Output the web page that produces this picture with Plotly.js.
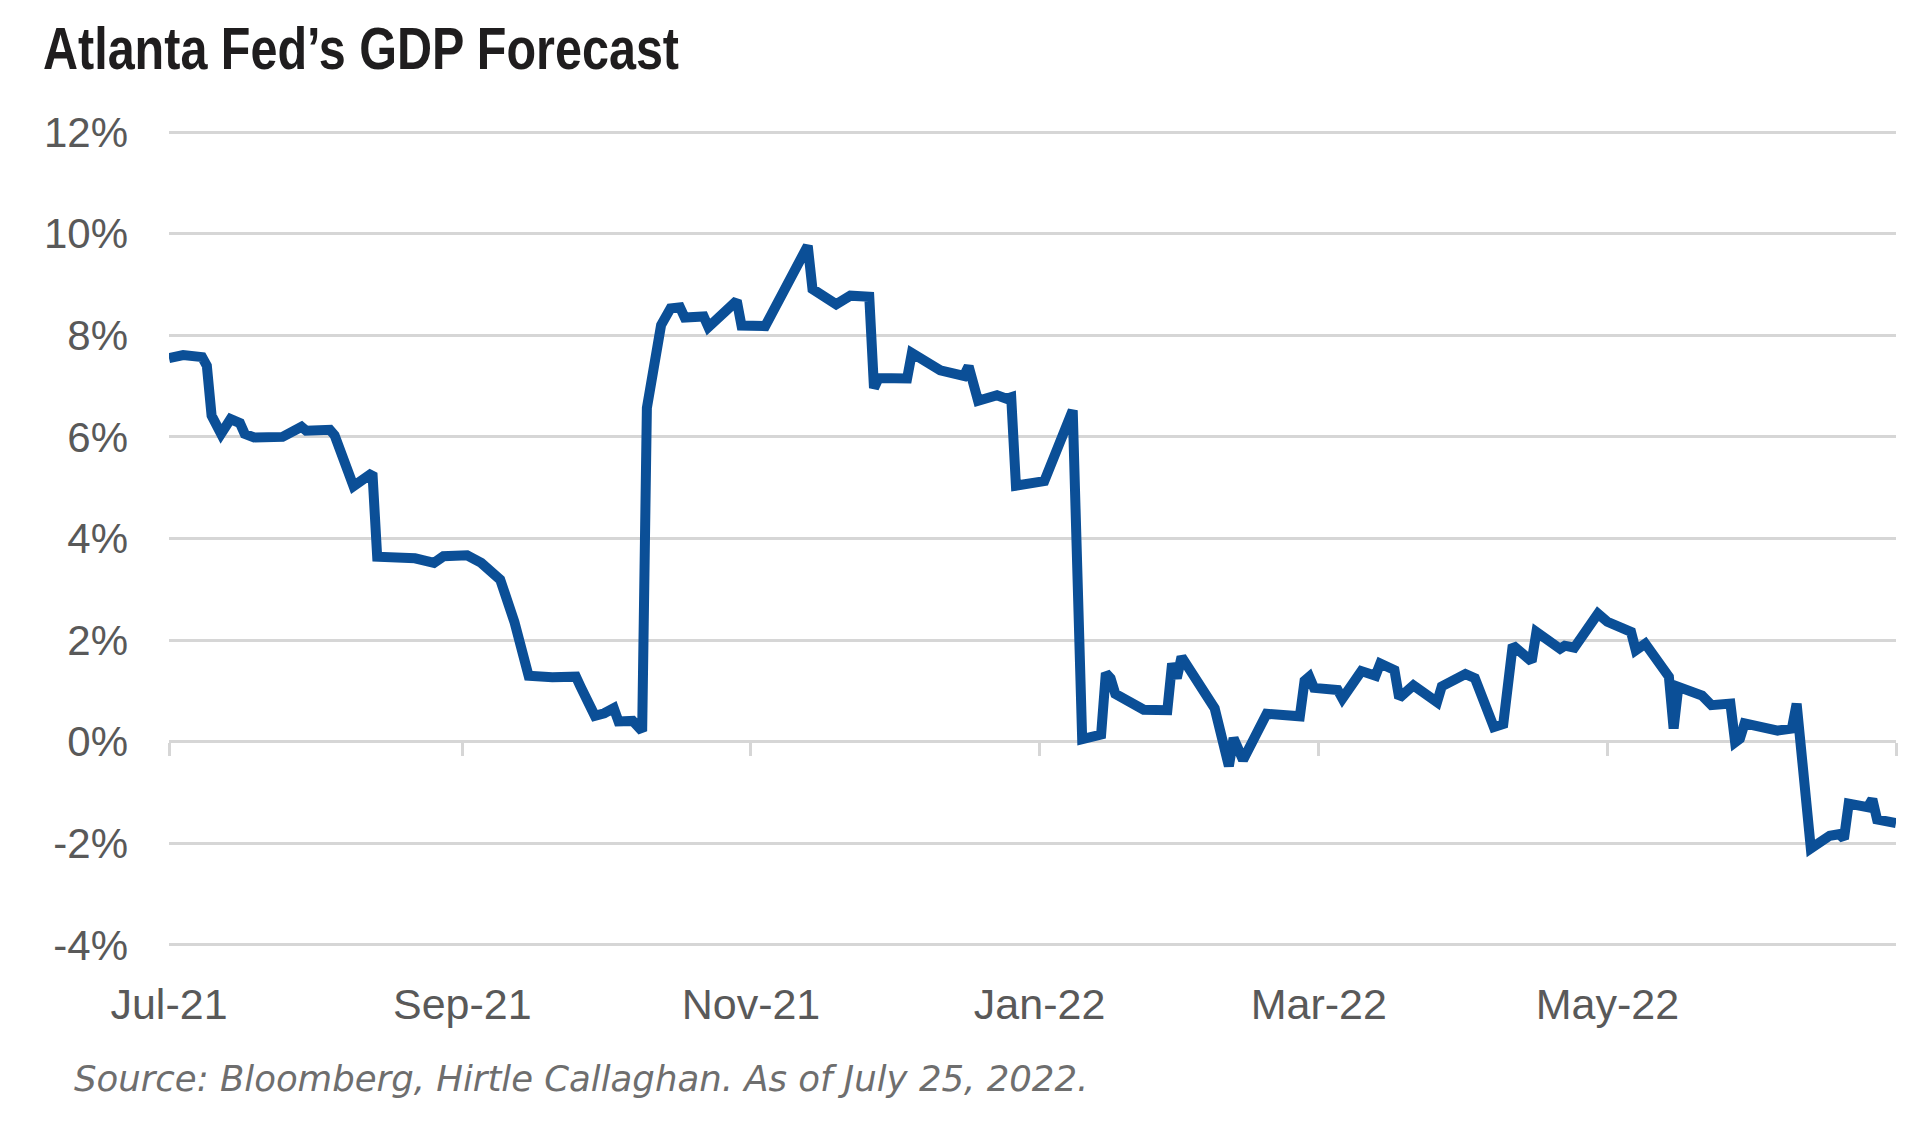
<!DOCTYPE html>
<html>
<head>
<meta charset="utf-8">
<script src="https://cdn.plot.ly/plotly-3.0.1.min.js"></script>
<style>
  html, body { margin: 0; padding: 0; background: #ffffff; }
  #chart { width: 1920px; height: 1133px; }
</style>
</head>
<body>
<div id="chart"></div>
<script>
// GDPNow estimate path, July 2021 – July 2022 (percent, annualized)
const forecastDates = [
  '2021-07-01','2021-07-04','2021-07-08','2021-07-09','2021-07-10','2021-07-12','2021-07-14','2021-07-16',
  '2021-07-17','2021-07-19','2021-07-25','2021-07-29','2021-07-30','2021-08-04','2021-08-05','2021-08-09',
  '2021-08-13','2021-08-14','2021-08-22','2021-08-26','2021-08-28','2021-09-02','2021-09-05','2021-09-09',
  '2021-09-12','2021-09-15','2021-09-20','2021-09-25','2021-09-26','2021-09-29','2021-10-01','2021-10-03',
  '2021-10-04','2021-10-07','2021-10-09','2021-10-10','2021-10-13','2021-10-15','2021-10-17','2021-10-18',
  '2021-10-22','2021-10-23','2021-10-29','2021-10-30','2021-11-04','2021-11-13','2021-11-14','2021-11-19',
  '2021-11-22','2021-11-26','2021-11-27','2021-11-28','2021-12-04','2021-12-05','2021-12-11','2021-12-16',
  '2021-12-17','2021-12-19','2021-12-23','2021-12-25','2021-12-26','2021-12-27','2022-01-02','2022-01-08',
  '2022-01-10','2022-01-14','2022-01-15','2022-01-16','2022-01-17','2022-01-21','2022-01-23','2022-01-28',
  '2022-01-29','2022-01-30','2022-01-31','2022-02-07','2022-02-10','2022-02-11','2022-02-13','2022-02-18',
  '2022-02-25','2022-02-26','2022-02-27','2022-02-28','2022-03-05','2022-03-06','2022-03-10','2022-03-13',
  '2022-03-14','2022-03-17','2022-03-18','2022-03-21','2022-03-24','2022-03-26','2022-03-27','2022-04-01',
  '2022-04-03','2022-04-07','2022-04-09','2022-04-11','2022-04-15','2022-04-16','2022-04-21','2022-04-22',
  '2022-04-24','2022-04-29','2022-05-01','2022-05-06','2022-05-07','2022-05-09','2022-05-14','2022-05-15',
  '2022-05-16','2022-05-21','2022-05-23','2022-05-27','2022-05-28','2022-05-29','2022-05-30','2022-06-06',
  '2022-06-09','2022-06-10','2022-06-13','2022-06-17','2022-06-19','2022-06-20','2022-06-21','2022-06-25',
  '2022-06-26','2022-06-27','2022-07-01'
];

const forecastValues = [
  7.55, 7.61, 7.57, 7.40, 6.42, 6.06, 6.35, 6.27,
  6.06, 5.99, 6.00, 6.20, 6.12, 6.14, 6.03, 5.03,
  5.29, 3.64, 3.61, 3.52, 3.65, 3.67, 3.52, 3.19,
  2.36, 1.30, 1.27, 1.28, 1.08, 0.51, 0.56, 0.66,
  0.40, 0.41, 0.21, 6.57, 8.20, 8.53, 8.55, 8.35,
  8.37, 8.16, 8.68, 8.19, 8.18, 9.76, 8.91, 8.61,
  8.78, 8.76, 6.96, 7.16, 7.15, 7.65, 7.31, 7.20,
  7.39, 6.71, 6.82, 6.75, 6.78, 5.04, 5.13, 6.52,
  0.05, 0.14, 1.35, 1.25, 0.94, 0.76, 0.63, 0.62,
  1.54, 1.25, 1.67, 0.66, -0.48, 0.07, -0.36, 0.55,
  0.50, 1.20, 1.28, 1.06, 1.02, 0.85, 1.39, 1.30,
  1.54, 1.41, 0.86, 1.11, 0.94, 0.78, 1.09, 1.33,
  1.25, 0.29, 0.35, 1.90, 1.58, 2.16, 1.83, 1.89,
  1.85, 2.52, 2.36, 2.16, 1.80, 1.93, 1.28, 0.26,
  1.08, 0.91, 0.72, 0.75, -0.01, 0.06, 0.36, 0.22,
  0.26, 0.75, -2.10, -1.85, -1.82, -1.91, -1.22, -1.29,
  -1.13, -1.53, -1.60
];

// Axis ticks
const xTickVals = ['2021-07-01','2021-09-01','2021-11-01','2022-01-01','2022-03-01','2022-05-01'];
const xTickText = ['Jul-21','Sep-21','Nov-21','Jan-22','Mar-22','May-22'];
const xTickMarks = ['2021-07-01','2021-09-01','2021-11-01','2022-01-01','2022-03-01','2022-05-01','2022-07-01'];
const xRange = ['2021-07-01','2022-07-01'];
const yTickVals = [-4, -2, 0, 2, 4, 6, 8, 10, 12];
const yTickText = ['-4%','-2%','0%','2%','4%','6%','8%','10%','12%'];

const titleText = 'Atlanta Fed\u2019s GDP Forecast';
const sourceText = 'Source: Bloomberg, Hirtle Callaghan. As of July 25, 2022.';

const W = 1920, H = 1133;
// y range padded a little so the 12% and -4% gridlines are kept inside the plot
const yPad = 0.06;
const yMin = -4 - yPad, yMax = 12 + yPad;
const pxPerUnit = 50.8;
const M = {
  l: 169,
  r: 24,
  t: Math.round(132 - yPad * pxPerUnit),
  b: Math.round(188 - yPad * pxPerUnit)
};
const plotH = H - M.t - M.b;
const plotW = W - M.l - M.r;
const zeroFrac = (0 - yMin) / (yMax - yMin);

const gridGray = '#d6d6d6';
const labelGray = '#595959';

const traces = [
  {
    type: 'scatter',
    mode: 'lines',
    x: forecastDates,
    y: forecastValues,
    line: { color: '#0b4f97', width: 10, shape: 'linear' },
    hoverinfo: 'x+y',
    showlegend: false
  },
  {
    // carrier for the tick-mark axis along the 0% line
    type: 'scatter',
    mode: 'lines',
    x: forecastDates,
    y: forecastValues,
    xaxis: 'x2',
    line: { width: 0, color: 'rgba(0,0,0,0)' },
    hoverinfo: 'skip',
    showlegend: false
  }
];

const layout = {
  width: W,
  height: H,
  paper_bgcolor: '#ffffff',
  plot_bgcolor: '#ffffff',
  margin: M,
  showlegend: false,
  title: {
    text: titleText,
    font: { family: 'Liberation Sans, Arial, sans-serif', size: 60, weight: 'bold', color: '#1f1d1e' },
    xref: 'container', yref: 'container',
    x: 43 / W, xanchor: 'left',
    y: 1 - 27 / H, yanchor: 'top',
    pad: { t: 0, b: 0, l: 0, r: 0 }
  },
  xaxis: {
    type: 'date',
    range: xRange,
    tickmode: 'array',
    tickvals: xTickVals,
    ticktext: xTickText,
    ticks: '',
    showgrid: false,
    zeroline: false,
    showline: false,
    ticklabelstandoff: 27,
    tickfont: { family: 'Liberation Sans, Arial, sans-serif', size: 43, color: labelGray },
    fixedrange: true
  },
  xaxis2: {
    type: 'date',
    range: xRange,
    overlaying: 'x',
    anchor: 'free',
    position: zeroFrac,
    side: 'bottom',
    tickmode: 'array',
    tickvals: xTickMarks,
    ticks: 'outside',
    ticklen: 13,
    tickwidth: 3,
    tickcolor: gridGray,
    showticklabels: false,
    showgrid: false,
    zeroline: false,
    showline: false,
    fixedrange: true
  },
  yaxis: {
    range: [yMin, yMax],
    tickmode: 'array',
    tickvals: yTickVals,
    ticktext: yTickText,
    ticks: '',
    showgrid: true,
    gridcolor: gridGray,
    gridwidth: 3,
    zeroline: false,
    showline: false,
    ticklabelstandoff: 40,
    tickfont: { family: 'Liberation Sans, Arial, sans-serif', size: 42, color: labelGray },
    fixedrange: true
  },
  annotations: [
    {
      text: sourceText,
      xref: 'paper', yref: 'paper',
      x: (72 - M.l) / plotW, xanchor: 'left',
      y: -(1056 - (H - M.b)) / plotH, yanchor: 'top',
      showarrow: false,
      font: { family: 'DejaVu Sans, sans-serif', size: 35.5, style: 'italic', color: '#6e6e6e' }
    }
  ]
};

Plotly.newPlot('chart', traces, layout, { displayModeBar: false, staticPlot: true }).then(function (gd) {
  // condensed headline: squeeze the bold title to its set width
  const t = gd.querySelector('.gtitle');
  if (t) {
    t.setAttribute('textLength', '636');
    t.setAttribute('lengthAdjust', 'spacingAndGlyphs');
  }
});
</script>
</body>
</html>
